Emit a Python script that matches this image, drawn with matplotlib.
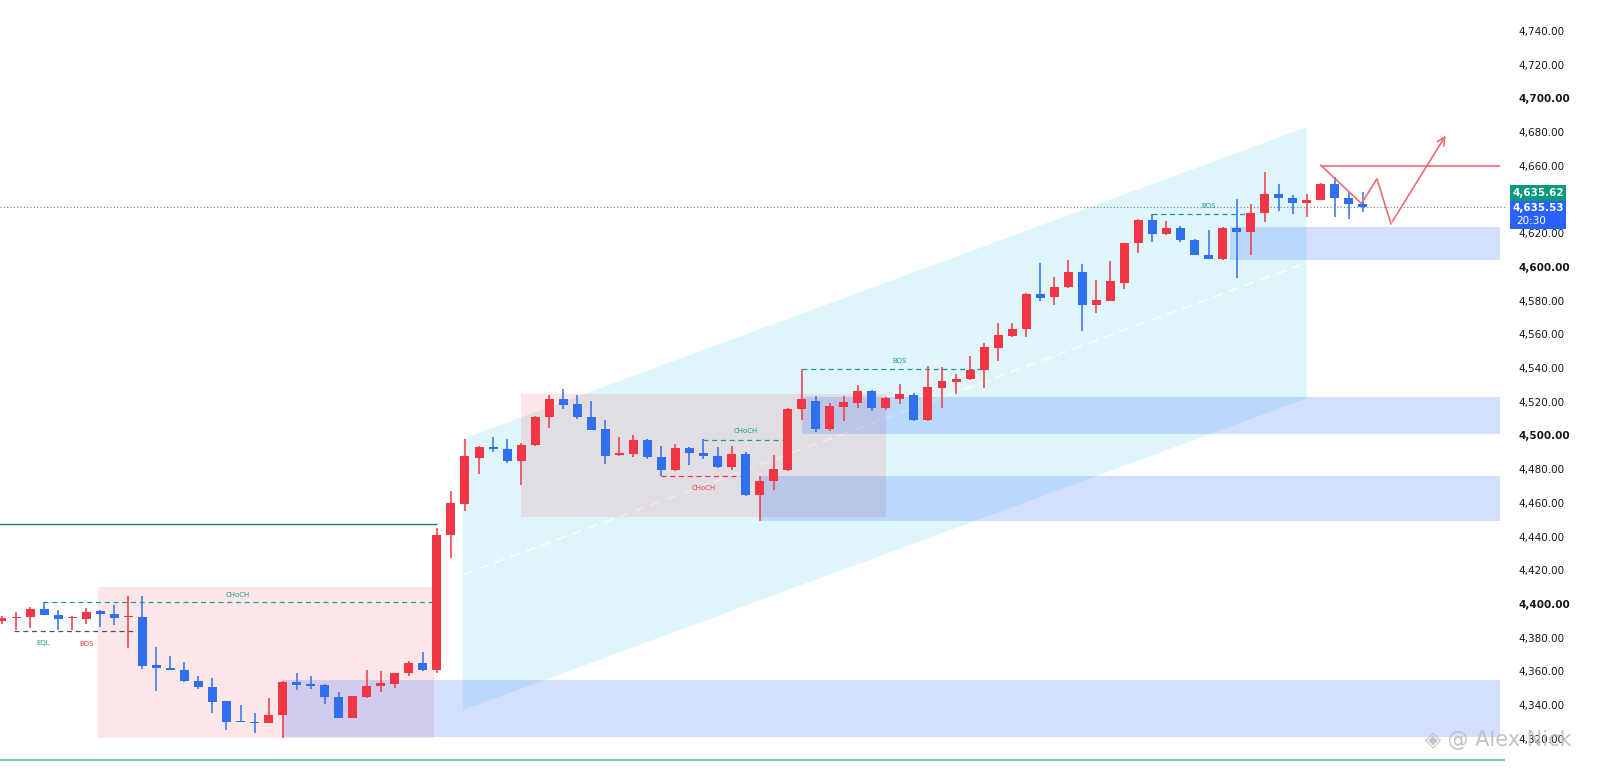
import numpy as np
import matplotlib.pyplot as plt
from matplotlib.patches import Rectangle, Polygon

# candle data (red = up, blue = down)
opens = [4389.9, 4391.5, 4392.5, 4396.8, 4393.5, 4391.7, 4391.1, 4395.8, 4394.0, 4392.3,
         4392.5, 4363.8, 4362.2, 4360.8, 4354.3, 4350.9, 4342.4, 4330.6, 4330.2, 4329.2,
         4334.1, 4353.9, 4352.3, 4351.9, 4345.0, 4332.1, 4345.0, 4351.1, 4352.3, 4358.8,
         4364.8, 4360.8, 4441.0, 4459.0, 4486.6, 4492.9, 4492.1, 4485.0, 4494.1, 4510.7,
         4521.6, 4518.6, 4510.7, 4504.0, 4488.2, 4489.2, 4497.5, 4487.2, 4479.7, 4492.5,
         4489.6, 4487.6, 4481.0, 4489.0, 4464.8, 4472.7, 4479.7, 4515.7, 4520.5, 4504.0,
         4516.9, 4519.3, 4526.6, 4516.3, 4521.8, 4524.2, 4509.0, 4528.2, 4531.5, 4533.5,
         4539.0, 4551.9, 4559.2, 4563.2, 4583.9, 4582.0, 4587.9, 4597.0, 4577.2, 4580.0,
         4590.4, 4614.0, 4627.9, 4619.4, 4623.2, 4615.9, 4607.2, 4604.9, 4623.1, 4620.7,
         4631.8, 4643.4, 4641.0, 4638.0, 4639.9, 4649.4, 4641.0, 4637.6]
highs = [4393.0, 4395.4, 4398.4, 4401.4, 4396.4, 4392.9, 4397.8, 4396.4, 4399.4, 4404.9,
         4404.9, 4374.7, 4369.3, 4365.4, 4357.5, 4355.9, 4342.4, 4340.0, 4335.1, 4344.0,
         4354.3, 4358.8, 4357.3, 4352.5, 4348.0, 4345.6, 4360.8, 4360.2, 4358.8, 4366.2,
         4371.7, 4445.0, 4467.0, 4498.0, 4493.5, 4498.9, 4498.1, 4495.5, 4511.3, 4524.2,
         4527.7, 4523.8, 4520.6, 4509.3, 4498.9, 4500.4, 4498.1, 4493.5, 4494.9, 4493.3,
         4497.7, 4493.3, 4493.5, 4490.1, 4475.7, 4488.2, 4516.5, 4539.4, 4523.2, 4519.0,
         4523.2, 4530.1, 4527.0, 4522.5, 4530.5, 4525.0, 4541.4, 4540.4, 4536.5, 4546.9,
         4554.9, 4566.7, 4567.0, 4584.3, 4602.3, 4593.8, 4604.3, 4601.8, 4592.4, 4603.7,
         4614.3, 4628.3, 4631.4, 4627.1, 4624.5, 4616.3, 4621.7, 4623.5, 4640.1, 4637.2,
         4656.1, 4649.4, 4642.5, 4643.0, 4650.0, 4653.6, 4644.5, 4644.5]
lows = [4388.0, 4384.6, 4385.9, 4393.5, 4384.6, 4384.6, 4387.9, 4386.5, 4387.5, 4374.1,
        4361.4, 4348.4, 4360.5, 4353.9, 4349.5, 4335.1, 4325.2, 4329.8, 4323.2, 4329.2,
        4320.7, 4349.0, 4349.5, 4340.4, 4332.1, 4332.1, 4344.4, 4348.0, 4349.9, 4357.0,
        4360.2, 4359.0, 4427.0, 4455.0, 4477.1, 4490.1, 4483.6, 4470.8, 4493.5, 4504.4,
        4515.9, 4510.0, 4503.0, 4483.0, 4488.0, 4487.0, 4486.2, 4475.7, 4478.7, 4482.6,
        4486.2, 4480.8, 4479.7, 4463.8, 4449.0, 4467.8, 4479.0, 4509.3, 4502.0, 4502.5,
        4508.4, 4516.3, 4514.3, 4515.0, 4518.7, 4508.5, 4508.4, 4516.3, 4524.6, 4533.0,
        4528.2, 4544.4, 4558.6, 4558.2, 4580.0, 4577.6, 4587.4, 4562.2, 4572.7, 4579.5,
        4587.0, 4608.5, 4614.9, 4619.0, 4615.0, 4607.0, 4604.5, 4604.3, 4593.7, 4607.2,
        4626.5, 4633.3, 4631.5, 4629.4, 4639.5, 4629.8, 4628.5, 4632.3]
closes = [4391.9, 4392.3, 4396.8, 4393.5, 4391.1, 4392.1, 4395.4, 4393.9, 4391.9, 4392.9,
          4363.4, 4361.8, 4360.8, 4354.3, 4350.9, 4342.0, 4330.2, 4329.8, 4329.2, 4334.1,
          4353.9, 4351.9, 4351.5, 4345.0, 4332.1, 4345.6, 4351.5, 4352.9, 4358.8, 4364.8,
          4360.8, 4441.0, 4460.0, 4488.0, 4492.9, 4491.7, 4485.0, 4494.1, 4510.7, 4521.6,
          4518.2, 4510.7, 4503.4, 4488.0, 4489.4, 4497.5, 4487.0, 4479.7, 4492.5, 4489.4,
          4487.6, 4481.2, 4489.0, 4464.8, 4472.7, 4480.1, 4515.9, 4521.8, 4504.0, 4517.7,
          4519.6, 4526.6, 4516.3, 4522.2, 4524.6, 4509.0, 4528.8, 4532.2, 4533.5, 4539.0,
          4552.3, 4559.4, 4563.4, 4583.9, 4581.6, 4587.9, 4597.0, 4577.2, 4580.6, 4591.5,
          4614.0, 4627.9, 4619.8, 4623.2, 4615.9, 4607.2, 4604.9, 4623.2, 4620.7, 4631.8,
          4643.4, 4641.0, 4637.8, 4639.9, 4649.4, 4641.0, 4637.6, 4635.5]

# zones: (start bar, end bar, low, high)
supply_boxes = [(6.85, 30.8, 4320.7, 4410.0), (37.0, 63.0, 4451.4, 4524.6)]
demand_boxes = [(20.0, 106.8, 4321.0, 4355.0), (54.0, 106.8, 4449.5, 4475.7),
                (57.0, 106.8, 4500.7, 4522.8), (87.5, 106.8, 4604.3, 4623.6)]
channel_x = [32.86, 93.0]
channel_low = [4337.0, 4522.0]
channel_high = [4498.0, 4683.0]

# structure lines: (x0, x1, price, label, label_x, label_y, colour)
teal = '#1e9e8a'
red = '#f23645'
blue = '#2f6ff0'
struct_lines = [(2.9, 30.8, 4401.4, 'CHoCH', 16.8, 4405.0, teal),
                (0.85, 9.5, 4384.0, '', 0, 0, '#555555'),
                (50.0, 56.0, 4497.5, 'CHoCH', 53.0, 4502.5, teal),
                (47.0, 52.7, 4476.0, 'CHoCH', 50.0, 4469.0, red),
                (57.0, 70.0, 4539.4, 'BOS', 64.0, 4544.0, teal),
                (82.0, 89.0, 4631.4, 'BOS', 86.0, 4636.0, teal)]
small_labels = [('EQL', 2.9, 4377.0, teal), ('BOS', 6.0, 4376.0, red)]

proj_x = [94.0, 96.9, 98.0, 99.0, 103.0]
proj_y = [4660.4, 4637.6, 4652.3, 4625.6, 4679.3]
resist_level = 4660.0
last_price = 4635.53

yticks = np.arange(4320, 4741, 20)

fig = plt.figure(figsize=(16.06, 7.8), dpi=100)
ax = fig.add_axes([0, 0, 1505 / 1606, 1])
ax.set_xlim(-0.143, 107.13)
ax.set_ylim(4295.5, 4758.4)

# channel
poly = Polygon([(channel_x[0], channel_low[0]), (channel_x[0], channel_high[0]),
                (channel_x[1], channel_high[1]), (channel_x[1], channel_low[1])],
               closed=True, facecolor='#00bcd4', alpha=0.13, edgecolor='none', zorder=1)
ax.add_patch(poly)
ax.plot(channel_x, [(a + b) / 2 for a, b in zip(channel_low, channel_high)],
        color='white', ls=(0, (6, 4)), lw=1.2, alpha=0.9, zorder=1.2)

for x0, x1, lo, hi in supply_boxes:
    ax.add_patch(Rectangle((x0, lo), x1 - x0, hi - lo, facecolor='#f23645',
                           alpha=0.12, edgecolor='none', zorder=1.5))
for x0, x1, lo, hi in demand_boxes:
    ax.add_patch(Rectangle((x0, lo), x1 - x0, hi - lo, facecolor='#2962ff',
                           alpha=0.2, edgecolor='none', zorder=1.6))

# horizontal levels
ax.hlines(4447.4, -1, 31, color='#1f7a78', lw=1.0, zorder=2)
ax.axhline(4307.4, color='#7fcdbb', lw=1.6, zorder=2)
ax.axhline(last_price, color='#787b86', ls=(0, (1, 2)), lw=0.8, zorder=2)

for x0, x1, p, lab, lx, ly, col in struct_lines:
    ax.hlines(p, x0, x1, color=col, ls=(0, (4, 3)), lw=0.9, zorder=2.2)
    if lab:
        ax.text(lx, ly, lab, color=col, fontsize=5, ha='center', va='center', zorder=2.2)
for lab, lx, ly, col in small_labels:
    ax.text(lx, ly, lab, color=col, fontsize=5, ha='center', va='center', zorder=2.2)

# candles
idx = np.arange(len(opens))
o = np.array(opens)
c = np.array(closes)
cols = np.where(c >= o, red, blue)
body_lo = np.minimum(o, c)
body_h = np.maximum(np.abs(c - o), 0.8)
ax.vlines(idx, lows, highs, colors=cols, lw=1.1, zorder=3)
ax.bar(idx, body_h, bottom=body_lo, width=0.64, color=cols, zorder=3.1)

# projected path
ax.hlines(resist_level, proj_x[0], 106.8, color='#ef6b75', lw=1.2, zorder=4)
ax.plot(proj_x[:-1], proj_y[:-1], color='#ef6b75', lw=1.2, zorder=4)
ax.annotate('', xy=(proj_x[-1], proj_y[-1]), xytext=(proj_x[-2], proj_y[-2]),
            arrowprops=dict(arrowstyle='->', color='#ef6b75', lw=1.2,
                            mutation_scale=14), zorder=4)

# axes styling
for s in ax.spines.values():
    s.set_visible(False)
ax.set_xticks([])
ax.yaxis.tick_right()
ax.set_yticks(yticks)
ax.set_yticklabels([f'{v:,.2f}' for v in yticks])
ax.tick_params(axis='y', length=0, pad=10, labelsize=7.5, labelcolor='#131722')
for lab, v in zip(ax.get_yticklabels(), yticks):
    if v % 100 == 0:
        lab.set_fontweight('bold')

# last price tags
fig.patches.append(Rectangle((1510 / 1606, 1 - 201 / 780), 56 / 1606, 16 / 780,
                             transform=fig.transFigure, facecolor='#089981',
                             edgecolor='none'))
fig.text(1538 / 1606, 1 - 193 / 780, '4,635.62', color='white', fontsize=7.5,
         fontweight='bold', ha='center', va='center')
fig.patches.append(Rectangle((1510 / 1606, 1 - 229 / 780), 56 / 1606, 28 / 780,
                             transform=fig.transFigure, facecolor='#2962ff',
                             edgecolor='none'))
fig.text(1538 / 1606, 1 - 208 / 780, '4,635.53', color='white', fontsize=7.5,
         fontweight='bold', ha='center', va='center')
fig.text(1531 / 1606, 1 - 221 / 780, '20:30', color='white', fontsize=7.5,
         ha='center', va='center')

# watermark
fig.text(1498 / 1606, 1 - 740 / 780, '\u25c8 @ Alex Nick', color='#bdbdbd',
         fontsize=15, ha='center', va='center', alpha=0.9)

fig.savefig('out.png', dpi=100)
